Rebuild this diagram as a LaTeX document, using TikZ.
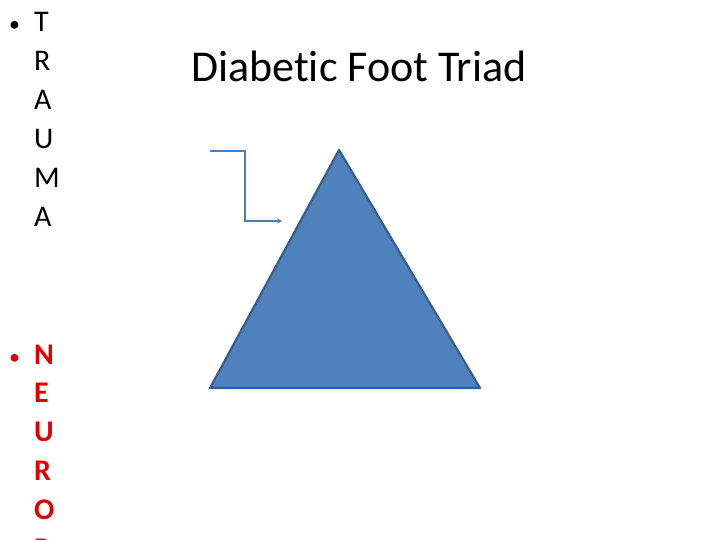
\documentclass[tikz,border=0pt]{standalone}
\usepackage{fontspec}
\setmainfont[Ligatures=NoCommon]{Carlito}
\usetikzlibrary{arrows.meta}
\definecolor{triblue}{HTML}{4F81BD}
\definecolor{triedge}{HTML}{385D8A}
\definecolor{linkblue}{HTML}{4A7EBB}
\definecolor{neurored}{HTML}{E00000}
\begin{document}
\begin{tikzpicture}[x=1pt,y=-1pt,
    letter/.style={anchor=base west,inner sep=0pt,font=\fontsize{30}{32}\selectfont},
    dot/.style={anchor=base west,inner sep=0pt,font=\fontsize{22}{24}\selectfont}]
    \useasboundingbox (0,0) rectangle (720,540);
    % trauma column
    \node[dot] (bt) at (9,32) {•};
    \foreach \ch [count=\i from 0] in {T,R,A,U,M,A}
        \node[letter] (t\i) at (34,32+38.8*\i) {\ch};
    % neuropathy column
    \node[dot,text=neurored] (bn) at (9,364) {•};
    \foreach \ch [count=\i from 0] in {N,E,U,R,O,P}
        \node[letter,text=neurored,font=\fontsize{30}{32}\selectfont\bfseries]
            (n\i) at (34,364+38.8*\i) {\ch};
    % title
    \node[anchor=base west,inner sep=0pt,font=\fontsize{44}{48}\selectfont]
        (title) at (191,82) {Diabetic Foot Triad};
    % triad
    \coordinate (apex) at (339,150);
    \coordinate (left) at (210,388);
    \coordinate (right) at (480,388);
    \draw[triedge,fill=triblue,line width=2.2,line join=round]
        (apex) -- (right) -- (left) -- cycle;
    % pointer
    \coordinate (src) at (210,151);
    \coordinate (dst) at (282,221);
    \draw[linkblue,line width=1.6,-{Stealth[length=5,width=5]}]
        (src) -| (245,186) |- (dst);
\end{tikzpicture}
\end{document}
